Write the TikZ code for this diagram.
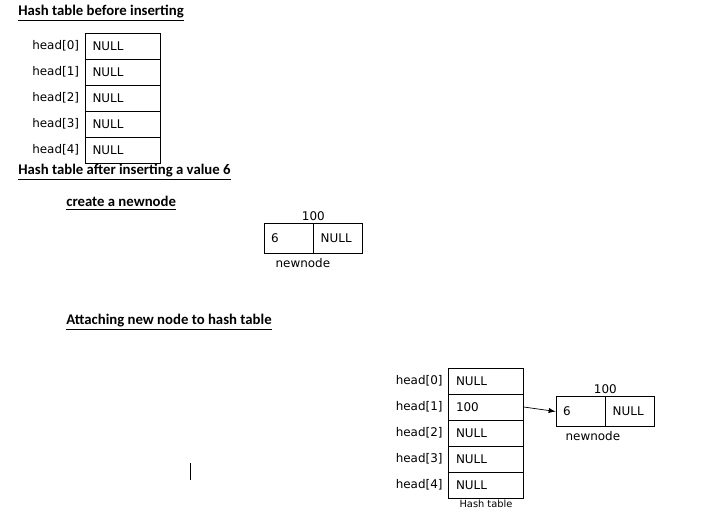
\documentclass[tikz,border=0pt]{standalone}
\usepackage{fontspec}
\setmainfont{Carlito}
\newfontfamily\cellfont{DejaVu Sans}
\usetikzlibrary{positioning}

\begin{document}
\begin{tikzpicture}[x=0.02cm,y=-0.02cm,
        heading/.style={anchor=west,font=\fontsize{8.4}{10}\selectfont\bfseries,inner sep=0pt},
        cell/.style={draw,minimum width=1.5cm,minimum height=0.52cm,inner sep=0pt,font=\cellfont\fontsize{6.8}{8}\selectfont,text width=1.2cm,align=left},
        half/.style={draw,minimum width=0.98cm,minimum height=0.6cm,inner sep=0pt,font=\cellfont\fontsize{6.8}{8}\selectfont,text width=0.7cm,align=left},
        lbl/.style={font=\cellfont\fontsize{6.8}{8}\selectfont,inner sep=3pt}
    ]
    \useasboundingbox[fill=white] (0,0) rectangle (708,525);

    % hash table before inserting
    \node[heading] (title1) at (18,13) {\underline{Hash table before inserting}};
    \foreach \i in {0,...,4} {
        \node[cell] (old\i) at (122.5,46+26*\i) {NULL};
        \node[lbl,anchor=east] (oldl\i) at (old\i.west) {head[\i]};
    }

    % create the new node
    \node[heading] (title2) at (18,172) {\underline{Hash table after inserting a value 6}};
    \node[heading] (title3) at (66,203) {\underline{create a newnode}};
    \node[half] (nval) at (288.5,238) {6};
    \node[half,right=0pt of nval] (nnext) {NULL};
    \node[lbl,above=-2pt of nval.north east] (naddr) {100};
    \node[lbl,anchor=north west] (nname) at (270,253) {newnode};

    % attaching it to the table
    \node[heading] (title4) at (66,322) {\underline{Attaching new node to hash table}};
    \foreach \i/\v in {0/NULL,1/100,2/NULL,3/NULL,4/NULL} {
        \node[cell] (new\i) at (486,381+26*\i) {\v};
        \node[lbl,anchor=east] (newl\i) at (new\i.west) {head[\i]};
    }
    \node[lbl,font=\cellfont\fontsize{5.6}{7}\selectfont,below=-2pt of new4] (tname) {Hash table};
    \node[half] (mval) at (580.5,411.5) {6};
    \node[half,right=0pt of mval] (mnext) {NULL};
    \node[lbl,above=-2pt of mval.north east] (maddr) {100};
    \node[lbl,anchor=north west] (mname) at (560,426) {newnode};
    \draw[-latex] (new1.east) -- (mval.west);

    \draw (190,463) -- (190,480);
\end{tikzpicture}
\end{document}
